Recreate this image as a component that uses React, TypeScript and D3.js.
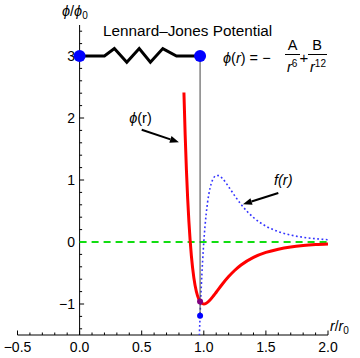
import React from "react";
import * as d3 from "d3";

// Lennard-Jones potential phi(r)
const potR = [0.84, 0.85, 0.86, 0.87, 0.88, 0.89, 0.9, 0.92, 0.94, 0.96, 0.98, 1.0, 1.02, 1.05, 1.08, 1.1, 1.15, 1.2, 1.25, 1.3, 1.4, 1.5, 1.6, 1.7, 1.8, 1.9, 2.0];
const potV = [2.41, 1.727, 1.166, 0.706, 0.33, 0.025, -0.223, -0.579, -0.798, -0.923, -0.983, -1.0, -0.988, -0.936, -0.863, -0.81, -0.678, -0.558, -0.456, -0.371, -0.248, -0.168, -0.116, -0.081, -0.058, -0.042, -0.031];

// force curve f(r) (blue dotted)
const forR = [0.95, 0.96, 0.97, 0.98, 0.99, 1.0, 1.02, 1.04, 1.06, 1.08, 1.1, 1.12, 1.15, 1.2, 1.25, 1.3, 1.4, 1.5, 1.6, 1.7, 1.8, 1.9, 2.0];
const forV = [-2.48, -1.773, -1.191, -0.713, -0.32, 0.0, 0.468, 0.765, 0.942, 1.036, 1.073, 1.071, 1.024, 0.891, 0.743, 0.607, 0.395, 0.256, 0.168, 0.112, 0.076, 0.053, 0.037];

// particle position and markers
const particleR = 0.97;
const springY = 3;
const markerPot = -0.96;
const markerForce = -1.19;

// spring zigzag (r, y)
const springX = [0, 0.2, 0.28, 0.38, 0.48, 0.57, 0.67, 0.78, 0.97];
const springYs = [3, 3, 3.12, 2.9, 3.12, 2.9, 3.12, 3, 3];

const xTicks = [-0.5, 0, 0.5, 1, 1.5, 2];
const xTickLabels = ["\u22120.5", "0.0", "0.5", "1.0", "1.5", "2.0"];
const yTicks = [-1, 0, 1, 2, 3];
const yTickLabels = ["\u22121", "0", "1", "2", "3"];

const W = 360, H = 358;

export default function App() {
  const x = d3.scaleLinear().domain([-0.5, 2]).range([17.5, 328]);
  const y = d3.scaleLinear().domain([-1.5, 3.5]).range([335, 25]);

  const line = d3.line<[number, number]>().x(d => x(d[0])).y(d => y(d[1])).curve(d3.curveMonotoneX);
  const potPath = line(potR.map((r, i) => [r, potV[i]] as [number, number]))!;
  const forPath = line(forR.map((r, i) => [r, forV[i]] as [number, number]))!;
  const springPath = d3.line<[number, number]>().x(d => x(d[0])).y(d => y(d[1]))(springX.map((r, i) => [r, springYs[i]] as [number, number]))!;

  const xMinor = d3.range(-5, 21).map(i => i / 10);
  const yMinor = d3.range(-7, 18).map(i => i / 5);

  const ax = x(0);
  const ay = y(-1.5);
  const font = "'Liberation Sans', Arial, sans-serif";

  const arrow = (x1: number, y1: number, x2: number, y2: number) => {
    const X1 = x(x1), Y1 = y(y1), X2 = x(x2), Y2 = y(y2);
    const ang = Math.atan2(Y2 - Y1, X2 - X1);
    const L = 9, Wd = 3.5;
    const bx = X2 - L * Math.cos(ang), by = Y2 - L * Math.sin(ang);
    const px = -Math.sin(ang) * Wd, py = Math.cos(ang) * Wd;
    return (
      <g>
        <line x1={X1} y1={Y1} x2={bx} y2={by} stroke="#000" strokeWidth={2} />
        <polygon points={`${X2},${Y2} ${bx + px},${by + py} ${bx - px},${by - py}`} fill="#000" />
      </g>
    );
  };

  return (
    <svg width={W} height={H} style={{ position: "absolute", left: 0, top: 0, background: "#fff" }} fontFamily={font}>
      <defs>
        <clipPath id="plot">
          <rect x={x(-0.5)} y={y(3.5)} width={x(2) - x(-0.5) + 2} height={y(-1.5) - y(3.5)} />
        </clipPath>
      </defs>

      {/* axes */}
      <line x1={x(-0.5)} x2={x(2)} y1={ay} y2={ay} stroke="#000" strokeWidth={1} />
      <line x1={ax} x2={ax} y1={y(-1.5)} y2={y(3.5)} stroke="#000" strokeWidth={1} />
      {xMinor.map((t, i) => {
        const major = Math.abs(t * 2 - Math.round(t * 2)) < 1e-6;
        return <line key={"xm" + i} x1={x(t)} x2={x(t)} y1={ay} y2={ay - (major ? 4.5 : 2.5)} stroke="#000" />;
      })}
      {yMinor.map((t, i) => {
        const major = Math.abs(t - Math.round(t)) < 1e-6;
        return <line key={"ym" + i} x1={ax} x2={ax + (major ? 4.5 : 2.5)} y1={y(t)} y2={y(t)} stroke="#000" />;
      })}
      {xTicks.map((t, i) => (
        <text key={"xl" + i} x={x(t)} y={352} fontSize={14} textAnchor="middle">{xTickLabels[i]}</text>
      ))}
      {yTicks.map((t, i) => (
        <text key={"yl" + i} x={75} y={y(t) + 5} fontSize={14} textAnchor="end">{yTickLabels[i]}</text>
      ))}
      <text x={62} y={16} fontSize={14.5}>
        <tspan fontStyle="italic">{"\u03D5"}</tspan>/<tspan fontStyle="italic">{"\u03D5"}</tspan>
        <tspan fontSize={10} dy={3}>0</tspan>
      </text>
      <text x={330} y={331} fontSize={14}>
        <tspan fontStyle="italic">r</tspan>/<tspan fontStyle="italic">r</tspan>
        <tspan fontSize={10} dy={3}>0</tspan>
      </text>

      {/* zero line */}
      <line x1={x(0)} x2={x(2)} y1={y(0)} y2={y(0)} stroke="#11dd11" strokeWidth={2} strokeDasharray="7 5" />

      {/* curves */}
      <g clipPath="url(#plot)">
        <path d={forPath} fill="none" stroke="#3333ff" strokeWidth={1.6} strokeDasharray="1.8 2.5" />
        <path d={potPath} fill="none" stroke="#ff0000" strokeWidth={3} />
      </g>

      {/* spring and particle */}
      <line x1={x(particleR)} x2={x(particleR)} y1={y(springY)} y2={y(markerForce)} stroke="#444" strokeWidth={1} />
      <path d={springPath} fill="none" stroke="#000" strokeWidth={3} strokeLinejoin="miter" />
      <circle cx={x(0)} cy={y(springY)} r={6} fill="#0000ff" />
      <circle cx={x(particleR)} cy={y(springY)} r={6} fill="#0000ff" />
      <circle cx={x(particleR)} cy={y(markerPot)} r={3} fill="#800080" />
      <circle cx={x(particleR)} cy={y(markerForce)} r={3} fill="#0000ff" />

      {/* title */}
      <text x={103} y={36} fontSize={15.3}>Lennard{"\u2013"}Jones Potential</text>

      {/* formula */}
      <text x={223} y={63} fontSize={14.5}>
        <tspan fontStyle="italic">{"\u03D5"}</tspan>(<tspan fontStyle="italic">r</tspan>) = {"\u2212"}
      </text>
      <text x={292.5} y={50} fontSize={14.5} textAnchor="middle">A</text>
      <line x1={285} x2={300} y1={54.5} y2={54.5} stroke="#000" strokeWidth={1} />
      <text x={287} y={72} fontSize={14.5}>
        <tspan fontStyle="italic">r</tspan><tspan fontSize={10} dy={-5}>6</tspan>
      </text>
      <text x={304} y={63} fontSize={15} textAnchor="middle">+</text>
      <text x={317} y={50} fontSize={14.5} textAnchor="middle">B</text>
      <line x1={308} x2={327} y1={54.5} y2={54.5} stroke="#000" strokeWidth={1} />
      <text x={310} y={72} fontSize={14.5}>
        <tspan fontStyle="italic">r</tspan><tspan fontSize={10} dy={-5}>12</tspan>
      </text>

      {/* annotations */}
      <text x={x(0.49)} y={y(2.0) + 5} fontSize={14.5} textAnchor="middle">
        <tspan fontStyle="italic">{"\u03D5"}</tspan>(r)
      </text>
      {arrow(0.5, 1.81, 0.8, 1.61)}
      <text x={x(1.64)} y={y(1.0) + 5} fontSize={14.5} textAnchor="middle" fontStyle="italic">f(r)</text>
      {arrow(1.6, 0.79, 1.315, 0.61)}
    </svg>
  );
}
